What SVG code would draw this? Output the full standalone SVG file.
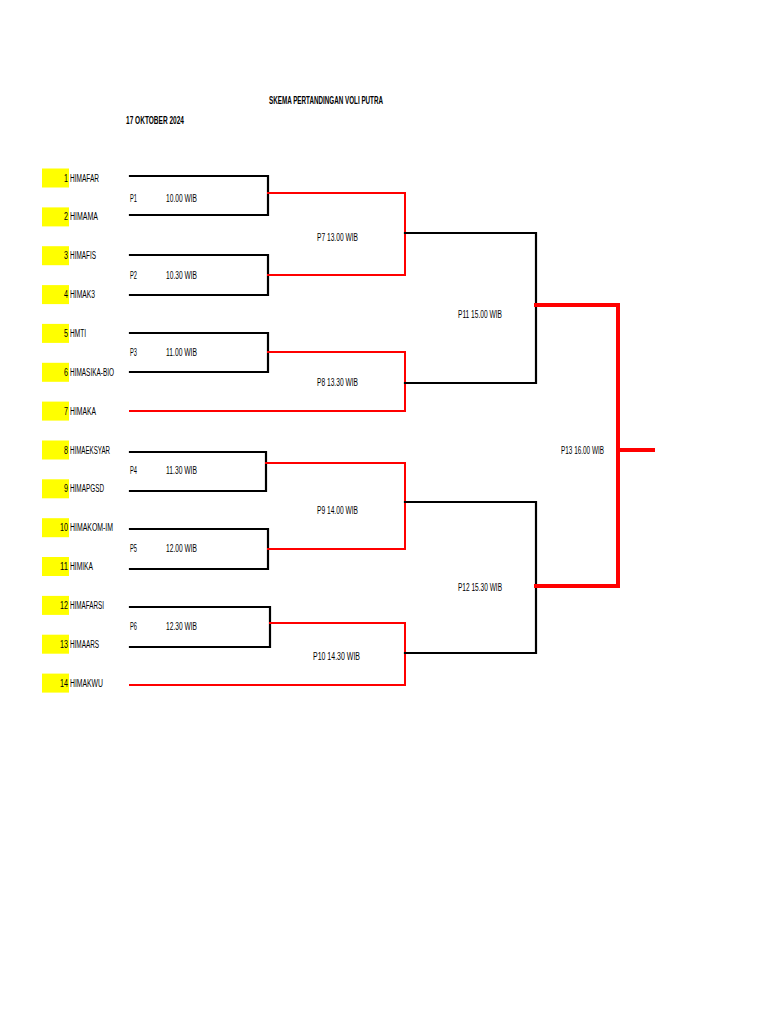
<svg xmlns="http://www.w3.org/2000/svg" width="768" height="1024" viewBox="0 0 768 1024">
<style>
text{font-family:"Liberation Sans",Arial,sans-serif;font-size:10px;fill:#000}
.b{font-weight:bold}
.n{text-anchor:end}
.box{fill:#ffff00}
.k{stroke:#000;stroke-width:2.2;fill:none;stroke-linecap:square}
.r{stroke:#ff0000;stroke-width:2;fill:none;stroke-linecap:square}
.R{stroke:#ff0000;stroke-width:4;fill:none;stroke-linecap:square}
</style>
<rect width="768" height="1024" fill="#fff"/>
<g id="title">
<text class="b" x="269" y="104" textLength="114" lengthAdjust="spacingAndGlyphs">SKEMA PERTANDINGAN VOLI PUTRA</text>
<text class="b" x="126" y="124" textLength="58" lengthAdjust="spacingAndGlyphs">17 OKTOBER 2024</text>
</g>
<g id="team1"><rect class="box" x="42" y="168.5" width="27" height="19"/><text class="n" x="68" y="181.5" textLength="4" lengthAdjust="spacingAndGlyphs">1</text><text x="70" y="181.5" textLength="29" lengthAdjust="spacingAndGlyphs">HIMAFAR</text></g>
<g id="team2"><rect class="box" x="42" y="207.4" width="27" height="19"/><text class="n" x="68" y="220.4" textLength="4" lengthAdjust="spacingAndGlyphs">2</text><text x="70" y="220.4" textLength="28" lengthAdjust="spacingAndGlyphs">HIMAMA</text></g>
<g id="team3"><rect class="box" x="42" y="246.2" width="27" height="19"/><text class="n" x="68" y="259.2" textLength="4" lengthAdjust="spacingAndGlyphs">3</text><text x="70" y="259.2" textLength="26" lengthAdjust="spacingAndGlyphs">HIMAFIS</text></g>
<g id="team4"><rect class="box" x="42" y="285.1" width="27" height="19"/><text class="n" x="68" y="298.1" textLength="4" lengthAdjust="spacingAndGlyphs">4</text><text x="70" y="298.1" textLength="25" lengthAdjust="spacingAndGlyphs">HIMAK3</text></g>
<g id="team5"><rect class="box" x="42" y="323.9" width="27" height="19"/><text class="n" x="68" y="336.9" textLength="4" lengthAdjust="spacingAndGlyphs">5</text><text x="70" y="336.9" textLength="16" lengthAdjust="spacingAndGlyphs">HMTI</text></g>
<g id="team6"><rect class="box" x="42" y="362.8" width="27" height="19"/><text class="n" x="68" y="375.8" textLength="4" lengthAdjust="spacingAndGlyphs">6</text><text x="70" y="375.8" textLength="44" lengthAdjust="spacingAndGlyphs">HIMASIKA-BIO</text></g>
<g id="team7"><rect class="box" x="42" y="401.6" width="27" height="19"/><text class="n" x="68" y="414.6" textLength="4" lengthAdjust="spacingAndGlyphs">7</text><text x="70" y="414.6" textLength="26" lengthAdjust="spacingAndGlyphs">HIMAKA</text></g>
<g id="team8"><rect class="box" x="42" y="440.5" width="27" height="19"/><text class="n" x="68" y="453.5" textLength="4" lengthAdjust="spacingAndGlyphs">8</text><text x="70" y="453.5" textLength="40" lengthAdjust="spacingAndGlyphs">HIMAEKSYAR</text></g>
<g id="team9"><rect class="box" x="42" y="479.3" width="27" height="19"/><text class="n" x="68" y="492.3" textLength="4" lengthAdjust="spacingAndGlyphs">9</text><text x="70" y="492.3" textLength="34" lengthAdjust="spacingAndGlyphs">HIMAPGSD</text></g>
<g id="team10"><rect class="box" x="42" y="518.2" width="27" height="19"/><text class="n" x="68" y="531.2" textLength="8" lengthAdjust="spacingAndGlyphs">10</text><text x="70" y="531.2" textLength="43" lengthAdjust="spacingAndGlyphs">HIMAKOM-IM</text></g>
<g id="team11"><rect class="box" x="42" y="557" width="27" height="19"/><text class="n" x="68" y="570" textLength="8" lengthAdjust="spacingAndGlyphs">11</text><text x="70" y="570" textLength="23" lengthAdjust="spacingAndGlyphs">HIMIKA</text></g>
<g id="team12"><rect class="box" x="42" y="595.9" width="27" height="19"/><text class="n" x="68" y="608.9" textLength="8" lengthAdjust="spacingAndGlyphs">12</text><text x="70" y="608.9" textLength="34" lengthAdjust="spacingAndGlyphs">HIMAFARSI</text></g>
<g id="team13"><rect class="box" x="42" y="634.7" width="27" height="19"/><text class="n" x="68" y="647.7" textLength="8" lengthAdjust="spacingAndGlyphs">13</text><text x="70" y="647.7" textLength="29" lengthAdjust="spacingAndGlyphs">HIMAARS</text></g>
<g id="team14"><rect class="box" x="42" y="673.6" width="27" height="19"/><text class="n" x="68" y="686.6" textLength="8" lengthAdjust="spacingAndGlyphs">14</text><text x="70" y="686.6" textLength="33" lengthAdjust="spacingAndGlyphs">HIMAKWU</text></g>
<g id="connectors">
<path class="k" d="M130 176H268V215H130"/>
<path class="k" d="M130 255H268V295H130"/>
<path class="k" d="M130 333H268V372H130"/>
<path class="k" d="M130 452H266V491H130"/>
<path class="k" d="M130 529H268V569H130"/>
<path class="k" d="M130 607H270V647H130"/>
<path class="r" d="M268 193H405V275H268"/>
<path class="r" d="M268 352H405V411H130"/>
<path class="r" d="M266 463H405V549H268"/>
<path class="r" d="M270 623H405V685H130"/>
<path class="k" d="M405 233H536V383H405"/>
<path class="k" d="M405 502H536V653H405"/>
<path class="R" d="M536 305H618V586H536"/>
<path class="R" d="M618 450H653"/>
</g>
<g id="P1"><text x="130" y="201.5" textLength="7" lengthAdjust="spacingAndGlyphs">P1</text><text x="166" y="201.5" textLength="31" lengthAdjust="spacingAndGlyphs">10.00 WIB</text></g>
<g id="P2"><text x="130" y="278.5" textLength="7" lengthAdjust="spacingAndGlyphs">P2</text><text x="166" y="278.5" textLength="31" lengthAdjust="spacingAndGlyphs">10.30 WIB</text></g>
<g id="P3"><text x="130" y="355.5" textLength="7" lengthAdjust="spacingAndGlyphs">P3</text><text x="166" y="355.5" textLength="31" lengthAdjust="spacingAndGlyphs">11.00 WIB</text></g>
<g id="P4"><text x="130" y="473.5" textLength="7" lengthAdjust="spacingAndGlyphs">P4</text><text x="166" y="473.5" textLength="31" lengthAdjust="spacingAndGlyphs">11.30 WIB</text></g>
<g id="P5"><text x="130" y="551.5" textLength="7" lengthAdjust="spacingAndGlyphs">P5</text><text x="166" y="551.5" textLength="31" lengthAdjust="spacingAndGlyphs">12.00 WIB</text></g>
<g id="P6"><text x="130" y="629.5" textLength="7" lengthAdjust="spacingAndGlyphs">P6</text><text x="166" y="629.5" textLength="31" lengthAdjust="spacingAndGlyphs">12.30 WIB</text></g>
<g id="P7"><text x="317" y="240.5" textLength="41" lengthAdjust="spacingAndGlyphs">P7 13.00 WIB</text></g>
<g id="P8"><text x="317" y="385.5" textLength="41" lengthAdjust="spacingAndGlyphs">P8 13.30 WIB</text></g>
<g id="P9"><text x="317" y="513.5" textLength="41" lengthAdjust="spacingAndGlyphs">P9 14.00 WIB</text></g>
<g id="P10"><text x="313" y="659.5" textLength="47" lengthAdjust="spacingAndGlyphs">P10 14.30 WIB</text></g>
<g id="P11"><text x="458" y="317.5" textLength="44" lengthAdjust="spacingAndGlyphs">P11 15.00 WIB</text></g>
<g id="P12"><text x="458" y="590.5" textLength="44" lengthAdjust="spacingAndGlyphs">P12 15.30 WIB</text></g>
<g id="P13"><text x="561" y="453.5" textLength="43" lengthAdjust="spacingAndGlyphs">P13 16.00 WIB</text></g>
</svg>
